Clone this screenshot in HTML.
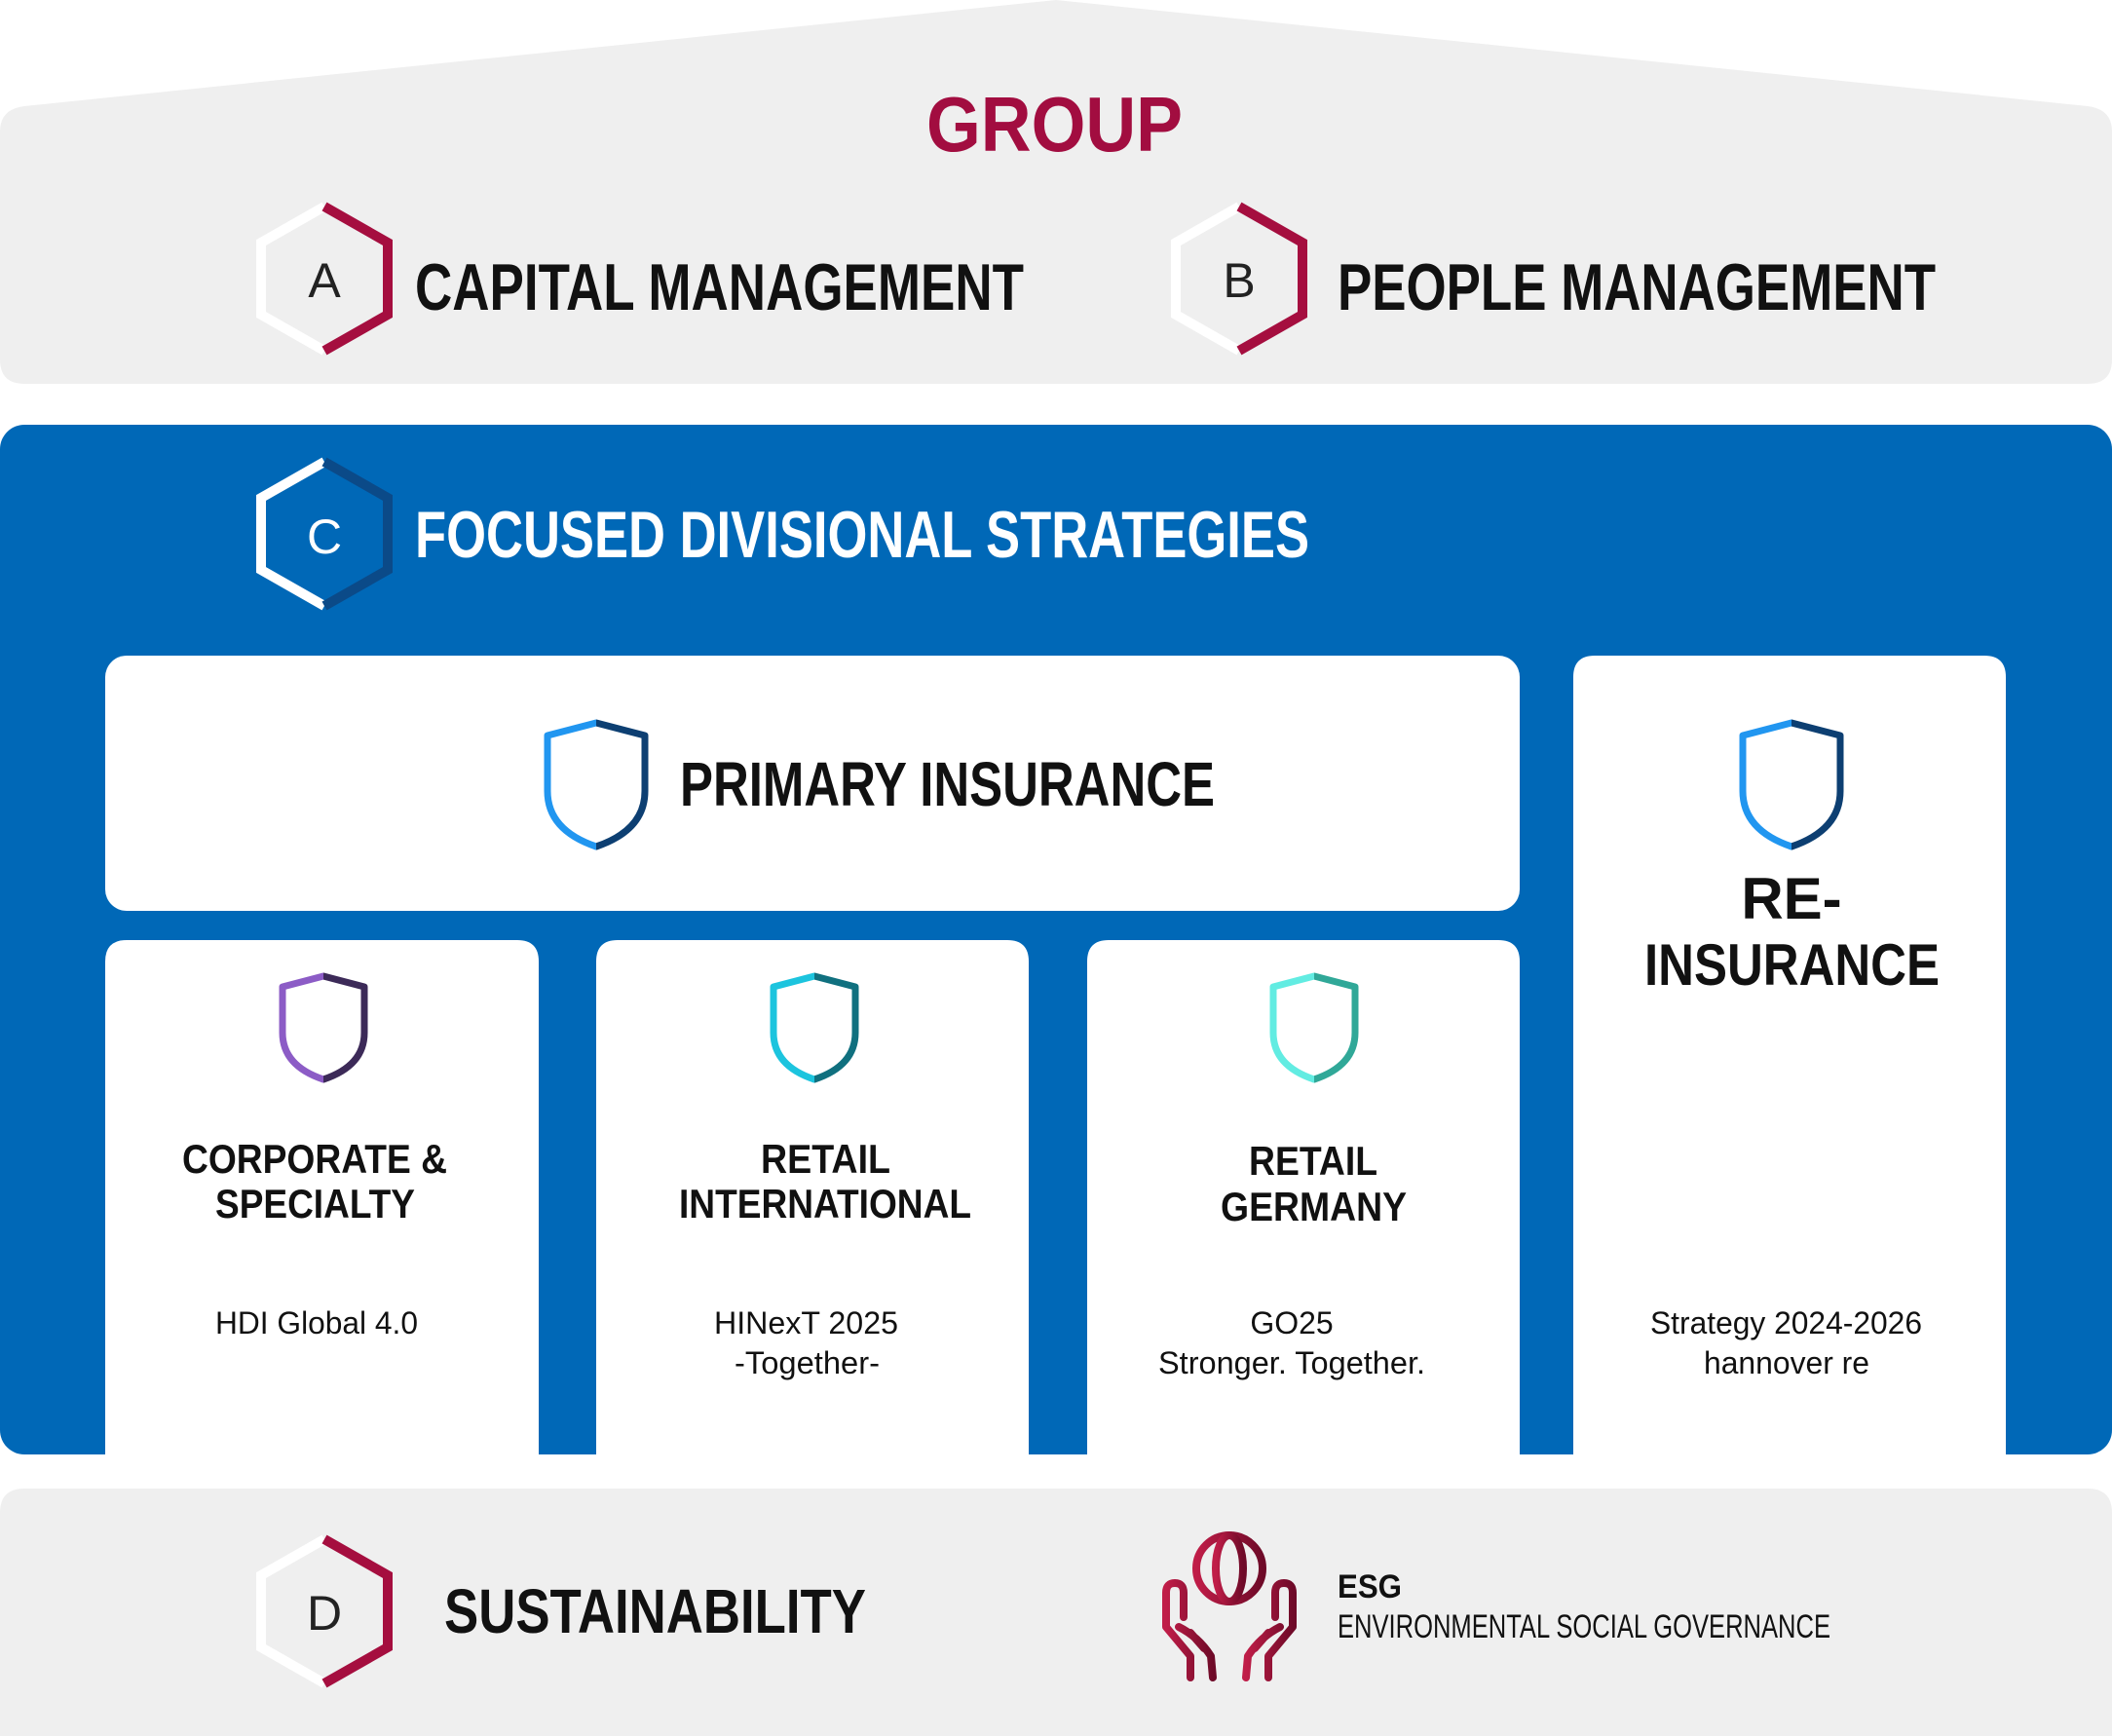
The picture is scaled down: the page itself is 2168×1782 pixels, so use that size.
<!DOCTYPE html>
<html><head><meta charset="utf-8"><style>html,body{margin:0;padding:0;background:#fff}svg{display:block}</style></head><body>
<svg width="2168" height="1782" viewBox="0 0 2168 1782" xmlns="http://www.w3.org/2000/svg" font-family="Liberation Sans, Arial, sans-serif">
<defs>
<linearGradient id="gP" x1="0" x2="1" y1="0" y2="0"><stop offset="0.5" stop-color="#2196f0"/><stop offset="0.5" stop-color="#0d3f72"/></linearGradient>
<linearGradient id="gV" x1="0" x2="1" y1="0" y2="0"><stop offset="0.5" stop-color="#8c5cc6"/><stop offset="0.5" stop-color="#3c2a58"/></linearGradient>
<linearGradient id="gT" x1="0" x2="1" y1="0" y2="0"><stop offset="0.5" stop-color="#1cc4de"/><stop offset="0.5" stop-color="#10707f"/></linearGradient>
<linearGradient id="gM" x1="0" x2="1" y1="0" y2="0"><stop offset="0.5" stop-color="#62ece2"/><stop offset="0.5" stop-color="#30a898"/></linearGradient>
<linearGradient id="gE" x1="0" x2="1" y1="0" y2="0"><stop offset="0" stop-color="#c01d48"/><stop offset="1" stop-color="#6e0a28"/></linearGradient>
</defs>
<!-- top grey house -->
<path d="M0,135 Q0,112 25,109 L1084,0 L2143,109 Q2168,112 2168,135 L2168,369 Q2168,394 2143,394 L25,394 Q0,394 0,369 Z" fill="#efefef"/>
<text x="951" y="155" font-size="80" font-weight="bold" fill="#a20d40" textLength="263" lengthAdjust="spacingAndGlyphs">GROUP</text>
<!-- hex A -->
<g stroke-width="10" fill="none">
<path d="M333,360 L268,323 L268,249 L333,212" stroke="#fff"/><path d="M333,212 L398,249 L398,323 L333,360" stroke="#a50e3f"/>
<path d="M1272,360 L1207,323 L1207,249 L1272,212" stroke="#fff"/><path d="M1272,212 L1337,249 L1337,323 L1272,360" stroke="#a50e3f"/>
</g>
<text x="333" y="305" font-size="50" fill="#222" text-anchor="middle">A</text>
<text x="1272" y="305" font-size="50" fill="#222" text-anchor="middle">B</text>
<text x="426" y="318" font-size="68" font-weight="bold" fill="#111" textLength="625" lengthAdjust="spacingAndGlyphs">CAPITAL MANAGEMENT</text>
<text x="1373" y="318" font-size="68" font-weight="bold" fill="#111" textLength="614" lengthAdjust="spacingAndGlyphs">PEOPLE MANAGEMENT</text>
<!-- blue panel -->
<rect x="0" y="436" width="2168" height="1057" rx="25" fill="#0068b7"/>
<g stroke-width="10" fill="none">
<path d="M333,622 L268,585 L268,511 L333,474" stroke="#fff"/><path d="M333,474 L398,511 L398,585 L333,622" stroke="#0b4a88"/>
</g>
<text x="333" y="568" font-size="50" fill="#fff" text-anchor="middle">C</text>
<text x="426" y="572" font-size="68" font-weight="bold" fill="#fff" textLength="918" lengthAdjust="spacingAndGlyphs">FOCUSED DIVISIONAL STRATEGIES</text>
<!-- boxes -->
<rect x="108" y="673" width="1452" height="262" rx="22" fill="#fff"/>
<path d="M1615,1493 L1615,695 Q1615,673 1637,673 L2037,673 Q2059,673 2059,695 L2059,1493 Z" fill="#fff"/>
<path d="M108,1493 L108,987 Q108,965 130,965 L531,965 Q553,965 553,987 L553,1493 Z" fill="#fff"/>
<path d="M612,1493 L612,987 Q612,965 634,965 L1034,965 Q1056,965 1056,987 L1056,1493 Z" fill="#fff"/>
<path d="M1116,1493 L1116,987 Q1116,965 1138,965 L1538,965 Q1560,965 1560,987 L1560,1493 Z" fill="#fff"/>
<!-- shields -->
<g fill="none" stroke-width="7" stroke-linejoin="round">
<path d="M612,742 L662,755 L662,812 Q662,852 612,869 Q562,852 562,812 L562,755 Z" stroke="url(#gP)"/>
<path d="M1839,742 L1889,755 L1889,812 Q1889,852 1839,869 Q1789,852 1789,812 L1789,755 Z" stroke="url(#gP)"/>
<path d="M332,1002 L374,1013 L374,1060 Q374,1094 332,1108 Q290,1094 290,1060 L290,1013 Z" stroke="url(#gV)"/>
<path d="M836,1002 L878,1013 L878,1060 Q878,1094 836,1108 Q794,1094 794,1060 L794,1013 Z" stroke="url(#gT)"/>
<path d="M1349,1002 L1391,1013 L1391,1060 Q1391,1094 1349,1108 Q1307,1094 1307,1060 L1307,1013 Z" stroke="url(#gM)"/>
</g>
<text x="698" y="827" font-size="64" font-weight="bold" fill="#111" textLength="549" lengthAdjust="spacingAndGlyphs">PRIMARY INSURANCE</text>
<text x="1839" y="943" font-size="60" font-weight="bold" fill="#111" text-anchor="middle">RE-</text>
<text x="1688" y="1011" font-size="60" font-weight="bold" fill="#111" textLength="303" lengthAdjust="spacingAndGlyphs">INSURANCE</text>
<g font-size="42" font-weight="bold" fill="#111">
<text x="187" y="1204" textLength="272" lengthAdjust="spacingAndGlyphs">CORPORATE &amp;</text>
<text x="221" y="1250" textLength="205" lengthAdjust="spacingAndGlyphs">SPECIALTY</text>
<text x="781" y="1204" textLength="133" lengthAdjust="spacingAndGlyphs">RETAIL</text>
<text x="697" y="1250" textLength="300" lengthAdjust="spacingAndGlyphs">INTERNATIONAL</text>
<text x="1282" y="1206" textLength="132" lengthAdjust="spacingAndGlyphs">RETAIL</text>
<text x="1253" y="1253" textLength="191" lengthAdjust="spacingAndGlyphs">GERMANY</text>
</g>
<g font-size="32" fill="#111">
<text x="221" y="1369" textLength="208" lengthAdjust="spacingAndGlyphs">HDI Global 4.0</text>
<text x="733" y="1369" textLength="189" lengthAdjust="spacingAndGlyphs">HINexT 2025</text>
<text x="754" y="1410" textLength="149" lengthAdjust="spacingAndGlyphs">-Together-</text>
<text x="1326" y="1369" text-anchor="middle">GO25</text>
<text x="1189" y="1410" textLength="274" lengthAdjust="spacingAndGlyphs">Stronger. Together.</text>
<text x="1694" y="1369" textLength="279" lengthAdjust="spacingAndGlyphs">Strategy 2024-2026</text>
<text x="1749" y="1410" textLength="170" lengthAdjust="spacingAndGlyphs">hannover re</text>
</g>
<!-- bottom band -->
<path d="M0,1782 L0,1553 Q0,1528 25,1528 L2143,1528 Q2168,1528 2168,1553 L2168,1782 Z" fill="#efefef"/>
<g stroke-width="10" fill="none">
<path d="M333,1728 L268,1691 L268,1617 L333,1580" stroke="#fff"/><path d="M333,1580 L398,1617 L398,1691 L333,1728" stroke="#a50e3f"/>
</g>
<text x="333" y="1673" font-size="50" fill="#222" text-anchor="middle">D</text>
<text x="456" y="1676" font-size="64" font-weight="bold" fill="#111" textLength="433" lengthAdjust="spacingAndGlyphs">SUSTAINABILITY</text>
<!-- ESG icon -->
<g fill="none" stroke="url(#gE)" stroke-width="8" stroke-linecap="round" stroke-linejoin="round">
<circle cx="1262" cy="1610" r="34"/>
<ellipse cx="1262" cy="1610" rx="14" ry="34"/>
<line x1="1228" y1="1610" x2="1296" y2="1610"/>
<path d="M1222,1722 L1222,1700 L1197,1670 L1197,1635 Q1197,1625 1206,1625 Q1215,1625 1215,1635 L1215,1660 M1210,1670 Q1230,1680 1243,1700 L1245,1722 M1222,1676 L1236,1692"/>
<path d="M1302,1722 L1302,1700 L1327,1670 L1327,1635 Q1327,1625 1318,1625 Q1309,1625 1309,1635 L1309,1660 M1314,1670 Q1294,1680 1281,1700 L1279,1722 M1302,1676 L1288,1692"/>
</g>
<text x="1373" y="1640" font-size="34" font-weight="bold" fill="#111" textLength="66" lengthAdjust="spacingAndGlyphs">ESG</text>
<text x="1373" y="1681" font-size="34" fill="#111" textLength="506" lengthAdjust="spacingAndGlyphs">ENVIRONMENTAL SOCIAL GOVERNANCE</text>
</svg>
</body></html>
